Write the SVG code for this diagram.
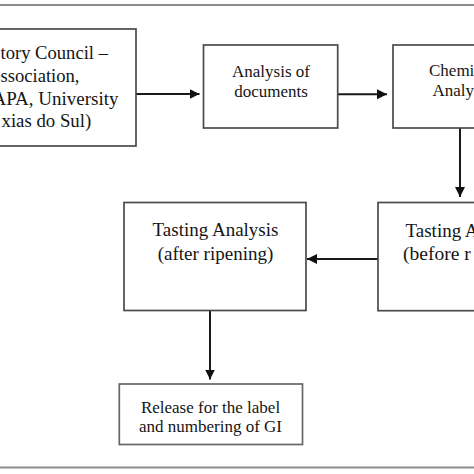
<svg xmlns="http://www.w3.org/2000/svg" width="474" height="474" viewBox="0 0 474 474">
  <defs>
    <style>
      .box { fill: #ffffff; stroke: #4a4a4a; stroke-width: 1.7; }
      .lbl { font-family: "Liberation Serif", "Times New Roman", serif; fill: #151515; }
      .conn { stroke: #1a1a1a; stroke-width: 2; fill: none; marker-end: url(#arrow); }
      .frame { stroke: #8c8c8c; stroke-width: 2; }
    </style>
    <marker id="arrow" markerUnits="userSpaceOnUse" markerWidth="11" markerHeight="11" refX="10" refY="5" orient="auto">
      <path d="M0,0 L10,5 L0,10 Z" fill="#111111"/>
    </marker>
  </defs>
  <rect x="0" y="0" width="474" height="474" fill="#ffffff"/>
  <line class="frame" x1="0" y1="5" x2="474" y2="5"/>
  <line class="frame" x1="0" y1="467.5" x2="474" y2="467.5"/>

  <g id="connectors">
    <line class="conn" x1="136" y1="94" x2="199.5" y2="94"/>
    <line class="conn" x1="337.7" y1="94.3" x2="387" y2="94.3"/>
    <line class="conn" x1="460" y1="128" x2="460" y2="197"/>
    <line class="conn" x1="378" y1="259" x2="307" y2="259"/>
    <line class="conn" x1="210" y1="310.5" x2="210" y2="379.5"/>
  </g>

  <g id="node-council">
    <rect class="box" x="-10" y="29" width="146" height="117"/>
    <text class="lbl" font-size="18.6" x="0.5" y="59">tory Council –</text>
    <text class="lbl" font-size="18.6" x="0.5" y="81.7">ssociation,</text>
    <text class="lbl" font-size="19" text-anchor="end" x="118.5" y="105">APA, University</text>
    <text class="lbl" font-size="18.8" x="1.5" y="127">xias do Sul)</text>
  </g>

  <g id="node-documents">
    <rect class="box" x="203.5" y="45" width="134.2" height="83"/>
    <text class="lbl" font-size="17" text-anchor="middle" x="271" y="77">Analysis of</text>
    <text class="lbl" font-size="17" text-anchor="middle" x="271" y="97">documents</text>
  </g>

  <g id="node-chemical">
    <rect class="box" x="393" y="45" width="140" height="83"/>
    <text class="lbl" font-size="17" x="429" y="75.5">Chemi</text>
    <text class="lbl" font-size="17" x="432.5" y="95.7">Analy</text>
  </g>

  <g id="node-tasting-before">
    <rect class="box" x="378" y="202.5" width="150" height="108.2"/>
    <text class="lbl" font-size="19" x="405.5" y="236.5">Tasting A</text>
    <text class="lbl" font-size="19.5" x="403" y="260">(before r</text>
  </g>

  <g id="node-tasting-after">
    <rect class="box" x="124" y="202.5" width="182" height="108"/>
    <text class="lbl" font-size="19" text-anchor="middle" x="215.5" y="236">Tasting Analysis</text>
    <text class="lbl" font-size="19" text-anchor="middle" x="215.5" y="260">(after ripening)</text>
  </g>

  <g id="node-release">
    <rect class="box" x="119.3" y="384" width="183.2" height="60.5" style="stroke:#666666"/>
    <text class="lbl" font-size="17" text-anchor="middle" x="210.5" y="413.3">Release for the label</text>
    <text class="lbl" font-size="17" text-anchor="middle" x="210.5" y="432.3">and numbering of GI</text>
  </g>
</svg>
